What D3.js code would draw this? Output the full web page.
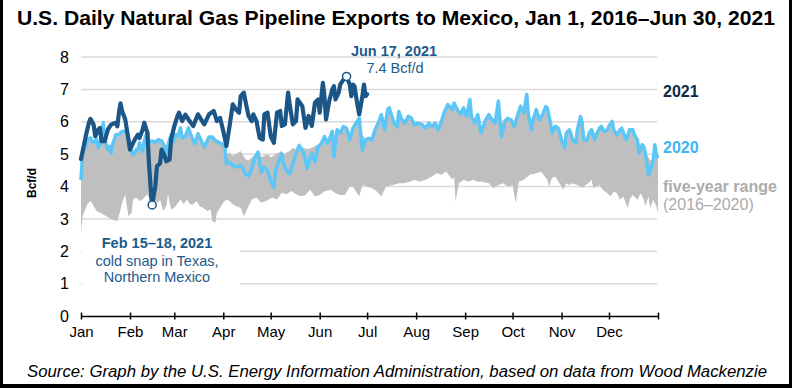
<!DOCTYPE html>
<html>
<head>
<meta charset="utf-8">
<script src="https://cdn.jsdelivr.net/npm/d3@7"></script>
<style>
  body { margin: 0; background: #fff; }
  svg { display: block; font-family: "Liberation Sans", Arial, sans-serif; }
</style>
</head>
<body>
<svg id="chart" width="792" height="388"></svg>
<script>
// Month labels and y ticks
const monthLabels = ['Jan', 'Feb', 'Mar', 'Apr', 'May', 'Jun', 'Jul', 'Aug', 'Sep', 'Oct', 'Nov', 'Dec'];
const yTicks = [0, 1, 2, 3, 4, 5, 6, 7, 8];

// [day of year (0 = Jan 1), Bcf/d]
const exports2021 = [
  [0,4.85],[3,5.55],[5,5.97],[6,6.09],[8,5.91],[9,5.55],[11,5.76],[12,5.81],[13,5.4],[15,5.4],
  [17,5.76],[19,5.91],[22,5.97],[23,5.86],[24,6.28],[25,6.57],[26,6.33],[28,6.07],[29,5.76],[31,5.14],
  [33,5.35],[34,5.45],[36,5.6],[37,5.5],[39,5.76],[40,5.97],[42,5.66],[43,4.72],[44,4.0],[45,3.43],
  [47,4.0],[48,4.62],[50,4.72],[51,5.14],[53,4.93],[54,4.78],[56,4.83],[57,5.45],[59,5.86],[61,6.17],
  [62,6.28],[64,6.02],[66,6.22],[68,6.07],[71,5.87],[74,6.23],[76,6.07],[78,5.92],[81,6.23],[84,6.33],
  [86,6.02],[88,6.12],[90,5.71],[92,5.25],[94,5.87],[96,6.54],[98,6.38],[100,6.28],[101,6.79],[103,6.9],
  [104,6.64],[106,6.18],[108,6.02],[109,6.23],[111,6.02],[113,5.5],[115,5.45],[116,6.23],[118,6.28],[120,5.56],
  [122,5.35],[124,6.28],[126,6.33],[127,5.87],[129,5.92],[131,6.9],[132,6.54],[134,5.92],[136,6.02],[137,6.69],
  [140,6.48],[142,5.81],[144,6.18],[146,5.87],[148,6.59],[150,6.69],[151,6.28],[153,7.2],[154,6.79],[155,6.07],
  [157,6.64],[159,7.0],[160,7.1],[161,6.69],[163,6.9],[164,7.15],[166,7.3],[168,7.4],[170,7.15],[171,6.79],
  [172,7.15],[173,7.1],[175,6.48],[176,6.23],[178,6.79],[179,7.15],[180,6.79],[181,6.85]
];

const exports2020 = [
  [0,4.2],[1,5.03],[3,5.24],[4,5.45],[6,5.5],[7,5.4],[8,5.35],[10,5.45],[11,5.19],[13,5.45],
  [14,5.97],[15,5.45],[17,5.14],[18,5.24],[19,5.03],[20,5.29],[22,5.6],[24,5.6],[25,5.66],[27,5.71],
  [29,5.71],[30,5.5],[32,5.09],[33,4.98],[35,5.14],[36,5.14],[37,5.35],[39,5.09],[40,5.4],[42,5.71],
  [43,5.35],[44,5.4],[46,5.4],[47,5.35],[49,5.45],[51,5.4],[53,5.24],[54,5.03],[56,5.45],[57,5.6],
  [58,5.35],[60,5.6],[61,5.55],[63,5.81],[64,5.5],[66,5.55],[68,5.81],[70,5.53],[72,5.32],[74,5.63],
  [76,5.42],[78,5.22],[81,5.53],[83,5.53],[85,5.42],[87,5.37],[89,5.32],[91,5.22],[92,4.7],[94,4.75],
  [96,4.65],[98,4.6],[101,4.65],[102,4.6],[104,4.39],[106,4.33],[108,4.54],[110,4.9],[112,5.06],[114,4.44],
  [116,4.6],[118,4.49],[120,4.18],[122,3.97],[123,4.49],[125,4.75],[127,5.01],[128,4.7],[130,4.49],[132,4.39],
  [134,4.7],[136,5.01],[138,5.27],[141,5.02],[143,4.55],[146,5.02],[148,4.76],[150,5.23],[152,5.33],[154,5.54],
  [156,5.33],[159,5.7],[160,4.92],[162,5.75],[164,5.65],[166,5.85],[168,5.8],[170,5.44],[172,5.8],[174,5.96],
  [176,6.11],[178,5.13],[180,5.44],[182,5.49],[184,5.44],[186,5.75],[188,5.96],[190,6.22],[192,5.75],[194,6.38],
  [195,6.43],[198,5.96],[200,5.85],[201,6.32],[203,6.06],[205,5.96],[207,6.17],[209,6.11],[211,5.9],[213,5.96],
  [216,5.9],[218,5.8],[220,5.96],[222,5.85],[224,5.96],[226,5.75],[228,6.01],[230,6.32],[232,6.53],[235,6.38],
  [236,6.58],[238,6.38],[240,6.22],[242,6.43],[244,6.17],[246,6.69],[247,6.17],[249,5.96],[251,6.22],[253,5.65],
  [256,6.06],[258,6.22],[260,6.06],[262,5.96],[264,6.64],[266,5.54],[268,6.01],[270,6.11],[272,6.06],[274,5.85],
  [276,6.17],[278,6.48],[280,6.27],[282,6.84],[283,6.22],[285,5.75],[286,6.06],[288,6.38],[290,6.06],[292,6.22],
  [294,6.47],[295,6.42],[297,5.96],[298,5.65],[300,5.86],[302,5.8],[304,5.44],[306,5.19],[307,5.65],[309,5.75],
  [311,5.44],[313,5.34],[314,5.75],[316,6.16],[317,5.96],[318,5.44],[320,5.44],[322,5.7],[323,5.75],[325,5.44],
  [326,5.6],[328,5.8],[329,5.86],[331,5.7],[333,5.75],[334,5.86],[336,6.01],[337,5.75],[339,5.6],[341,5.75],
  [342,5.8],[344,5.55],[345,5.44],[347,5.75],[349,5.75],[350,5.6],[352,5.44],[353,5.03],[355,5.29],[356,5.24],
  [357,5.03],[359,4.36],[360,4.46],[362,4.82],[363,5.29],[364,4.98],[365,4.88]
];

// five-year range (2016-2020), upper and lower edges
const rangeHigh = [
  [0,4.1],[1,4.95],[3,5.2],[4,5.4],[6,5.45],[7,5.35],[8,5.3],[10,5.4],[11,5.15],[13,5.4],
  [14,5.9],[15,5.4],[17,5.1],[18,5.2],[19,5.0],[20,5.25],[22,5.55],[24,5.55],[25,5.6],[27,5.65],
  [29,5.65],[30,5.45],[32,5.05],[33,4.95],[35,5.1],[36,5.1],[37,5.3],[39,5.05],[40,5.35],[42,5.65],
  [43,5.3],[44,5.35],[46,5.35],[47,5.3],[49,5.4],[51,5.35],[53,5.2],[54,5.0],[56,5.4],[57,5.55],
  [58,5.3],[60,5.55],[61,5.5],[63,5.75],[64,5.45],[66,5.5],[68,5.75],[70,5.5],[72,5.3],[74,5.6],
  [76,5.4],[78,5.2],[81,5.5],[83,5.5],[85,5.4],[87,5.35],[89,5.3],[91,5.2],[92,5.0],[94,5.05],
  [96,4.95],[98,5.0],[101,5.1],[102,5.0],[104,4.85],[106,4.8],[108,4.9],[110,4.95],[112,5.05],[114,4.9],
  [116,4.95],[118,5.0],[120,4.9],[122,4.95],[123,5.0],[125,5.05],[127,5.1],[128,5.0],[130,5.05],[132,5.1],
  [134,5.2],[136,5.15],[138,5.25],[141,5.2],[143,5.15],[146,5.2],[148,5.25],[150,5.3],[152,5.35],[154,5.5],
  [156,5.35],[159,5.65],[160,5.45],[162,5.7],[164,5.6],[166,5.8],[168,5.75],[170,5.5],[172,5.75],[174,5.9],
  [176,6.05],[178,5.6],[180,5.45],[182,5.45],[184,5.4],[186,5.7],[188,5.9],[190,6.15],[192,5.8],[194,6.3],
  [195,6.4],[198,5.95],[200,5.85],[201,6.3],[203,6.0],[205,5.95],[207,6.1],[209,6.05],[211,5.9],[213,5.9],
  [216,5.85],[218,5.8],[220,5.9],[222,5.85],[224,5.9],[226,5.75],[228,5.95],[230,6.3],[232,6.5],[235,6.35],
  [236,6.55],[238,6.35],[240,6.2],[242,6.4],[244,6.15],[246,6.65],[247,6.15],[249,5.95],[251,6.2],[253,5.8],
  [256,6.05],[258,6.2],[260,6.05],[262,5.95],[264,6.6],[266,5.9],[268,6.0],[270,6.1],[272,6.05],[274,5.85],
  [276,6.15],[278,6.45],[280,6.25],[282,6.8],[283,6.2],[285,5.8],[286,6.05],[288,6.35],[290,6.05],[292,6.2],
  [294,6.45],[295,6.4],[297,5.95],[298,5.7],[300,5.85],[302,5.8],[304,5.45],[306,5.3],[307,5.65],[309,5.75],
  [311,5.45],[313,5.35],[314,5.75],[316,6.15],[317,5.95],[318,5.45],[320,5.45],[322,5.7],[323,5.75],[325,5.45],
  [326,5.6],[328,5.8],[329,5.85],[331,5.7],[333,5.75],[334,5.85],[336,6.0],[337,5.75],[339,5.6],[341,5.75],
  [342,5.8],[344,5.55],[345,5.45],[347,5.75],[349,5.75],[350,5.6],[352,5.45],[353,5.1],[355,5.3],[356,5.25],
  [357,5.05],[359,4.9],[360,4.8],[362,4.85],[363,5.3],[364,5.0],[365,4.9]
];

const rangeLow = [
  [0,2.6],[1,3.08],[4,3.45],[6,3.55],[8,3.4],[10,3.24],[12,3.19],[14,3.14],[16,3.08],[18,3.03],
  [20,2.98],[23,2.93],[25,3.29],[26,3.5],[28,3.76],[29,3.4],[30,3.08],[32,3.19],[33,3.6],[35,3.66],
  [37,3.55],[39,3.6],[42,3.76],[44,3.5],[47,3.55],[49,3.5],[50,3.6],[52,3.24],[54,3.4],[55,3.76],
  [57,3.29],[59,3.34],[63,3.6],[65,3.45],[67,3.6],[69,3.45],[71,3.45],[73,3.55],[75,3.4],[77,3.34],
  [80,3.24],[82,3.29],[83,2.93],[85,2.88],[86,3.19],[88,3.34],[90,3.5],[92,3.6],[94,3.55],[96,3.45],
  [98,3.4],[101,3.34],[103,3.08],[105,3.29],[108,3.6],[111,3.66],[114,3.5],[117,3.55],[121,3.66],[124,3.6],
  [127,3.81],[130,3.76],[133,3.86],[136,3.76],[139,3.7],[142,3.74],[145,3.9],[148,3.69],[151,3.74],[154,3.85],
  [158,3.9],[161,3.79],[164,3.74],[167,3.74],[170,4.0],[172,4.0],[176,3.69],[178,4.05],[181,4.0],[184,3.95],
  [187,3.85],[190,3.69],[193,4.0],[197,4.05],[201,4.1],[204,4.1],[208,4.15],[211,4.21],[214,4.15],[218,4.21],
  [222,4.31],[225,4.41],[228,4.36],[231,4.46],[235,4.21],[236,4.31],[237,3.54],[239,4.1],[242,4.21],[245,4.15],
  [248,4.21],[251,4.15],[254,4.15],[258,4.1],[261,3.95],[264,4.05],[267,4.1],[270,4.0],[273,4.05],[275,3.48],
  [277,4.15],[280,4.21],[284,4.36],[288,4.41],[291,4.46],[295,4.21],[296,4.0],[298,4.26],[300,4.31],[302,4.15],
  [304,4.0],[305,3.9],[307,4.1],[309,4.05],[311,4.1],[314,4.05],[316,4.0],[317,3.95],[319,4.05],[321,4.1],
  [323,4.21],[324,3.95],[326,4.0],[328,4.05],[330,3.9],[333,3.79],[335,3.69],[337,3.85],[339,3.79],[341,3.59],
  [343,3.69],[346,3.33],[347,3.59],[349,3.74],[352,3.59],[354,3.79],[356,3.59],[357,3.38],[359,3.69],[360,3.33],
  [362,3.59],[364,3.38],[365,3.18]
];

const svg = d3.select('#chart');
const W = 792, H = 388;

const yearStart = new Date(2021, 0, 1);
const toDate = d => d3.timeDay.offset(yearStart, d);

const x = d3.scaleTime()
  .domain([yearStart, new Date(2022, 0, 1)])
  .range([81, 658]);
const y = d3.scaleLinear()
  .domain([0, 8])
  .range([316, 57]);

// Title
svg.append('text')
  .attr('x', W / 2).attr('y', 25)
  .attr('text-anchor', 'middle')
  .attr('textLength', 758).attr('lengthAdjust', 'spacingAndGlyphs')
  .style('font-size', '20px').style('font-weight', 'bold')
  .text('U.S. Daily Natural Gas Pipeline Exports to Mexico, Jan 1, 2016–Jun 30, 2021');

// Gridlines
svg.append('g')
  .selectAll('line')
  .data(yTicks.filter(t => t > 0))
  .enter().append('line')
  .attr('x1', 81).attr('x2', 657)
  .attr('y1', d => y(d)).attr('y2', d => y(d))
  .attr('stroke', '#d9d9d9').attr('stroke-width', 1.5);

// Five-year range band
const bandLine = d3.line()
  .x(d => x(toDate(d[0])))
  .y(d => y(d[1]));
svg.append('path')
  .attr('d', bandLine(rangeHigh.concat(rangeLow.slice().reverse())) + 'Z')
  .attr('fill', '#bfbfbf');

// Y axis labels
svg.append('g')
  .attr('transform', 'translate(69,0)')
  .call(d3.axisLeft(y).tickValues(yTicks).tickSize(0).tickPadding(0))
  .call(g => g.select('.domain').remove())
  .selectAll('text')
  .style('font-family', '"Liberation Sans", Arial, sans-serif')
  .style('font-size', '16px')
  .attr('fill', '#000');

svg.append('text')
  .attr('transform', 'translate(36,183) rotate(-90)')
  .attr('text-anchor', 'middle')
  .style('font-size', '12px').style('font-weight', 'bold')
  .text('Bcf/d');

// Annotation background for the cold-snap note (hides gridlines)
svg.append('rect')
  .attr('x', 82).attr('y', 230).attr('width', 158).attr('height', 60)
  .attr('fill', '#fff');

// Lines
const line = d3.line()
  .x(d => x(toDate(d[0])))
  .y(d => y(d[1]));

svg.append('path')
  .datum(exports2020)
  .attr('d', line)
  .attr('fill', 'none')
  .attr('stroke', '#5cc6f7')
  .attr('stroke-width', 3.5)
  .attr('stroke-linejoin', 'round');

svg.append('path')
  .datum(exports2021)
  .attr('d', line)
  .attr('fill', 'none')
  .attr('stroke', '#1b5686')
  .attr('stroke-width', 4.2)
  .attr('stroke-linejoin', 'round')
  .attr('stroke-linecap', 'round');

// X axis
const xAxis = svg.append('g')
  .attr('transform', 'translate(0,316)')
  .call(d3.axisBottom(x)
    .ticks(d3.timeMonth.every(1))
    .tickSizeInner(3).tickSizeOuter(0).tickPadding(7)
    .tickFormat(d => d.getFullYear() === 2021 ? monthLabels[d.getMonth()] : ''));
xAxis.select('.domain').attr('stroke', '#000').attr('stroke-width', 1.5);
xAxis.selectAll('.tick line').attr('y1', -3.5).attr('y2', 3.5).attr('stroke', '#000').attr('stroke-width', 1.5);
xAxis.selectAll('.tick text')
  .style('font-family', '"Liberation Sans", Arial, sans-serif')
  .style('font-size', '15px')
  .attr('fill', '#000');

// Markers for min and max of 2021
const lowPt = d3.least(exports2021, d => d[1]);
const highPt = d3.greatest(exports2021, d => d[1]);
svg.selectAll('.marker')
  .data([lowPt, highPt])
  .enter().append('circle')
  .attr('class', 'marker')
  .attr('cx', d => x(toDate(d[0])))
  .attr('cy', d => y(d[1]))
  .attr('r', 4)
  .attr('fill', '#fff')
  .attr('stroke', '#1b5686')
  .attr('stroke-width', 1.5);

// Annotations
const noteColor = '#1d5a8a';
const note = svg.append('g').attr('fill', noteColor).attr('text-anchor', 'middle').style('font-size', '14.5px');
note.append('text').attr('x', 157).attr('y', 248).style('font-weight', 'bold').text('Feb 15–18, 2021');
note.append('text').attr('x', 157).attr('y', 266).text('cold snap in Texas,');
note.append('text').attr('x', 157).attr('y', 282).text('Northern Mexico');
note.append('text').attr('x', 394).attr('y', 56).style('font-weight', 'bold').text('Jun 17, 2021');
note.append('text').attr('x', 395).attr('y', 73).text('7.4 Bcf/d');

// Series labels
const lab = svg.append('g').style('font-size', '16px');
lab.append('text').attr('x', 663).attr('y', 97).style('font-weight', 'bold').attr('fill', '#0e2a45').text('2021');
lab.append('text').attr('x', 663).attr('y', 153).style('font-weight', 'bold').attr('fill', '#3db6f2').text('2020');
lab.append('text').attr('x', 663).attr('y', 192).style('font-weight', 'bold').attr('fill', '#ababab').text('five-year range');
lab.append('text').attr('x', 663).attr('y', 210).attr('fill', '#ababab').text('(2016–2020)');

// Source
svg.append('text')
  .attr('x', 397).attr('y', 377)
  .attr('text-anchor', 'middle')
  .attr('textLength', 740).attr('lengthAdjust', 'spacingAndGlyphs')
  .style('font-size', '16px').style('font-style', 'italic')
  .text('Source: Graph by the U.S. Energy Information Administration, based on data from Wood Mackenzie');

// Frame
svg.append('rect').attr('x', 0).attr('y', 0).attr('width', 3).attr('height', H).attr('fill', '#000');
svg.append('rect').attr('x', W - 3).attr('y', 0).attr('width', 3).attr('height', H).attr('fill', '#000');
svg.append('rect').attr('x', 0).attr('y', H - 4).attr('width', W).attr('height', 4).attr('fill', '#000');
</script>
</body>
</html>
